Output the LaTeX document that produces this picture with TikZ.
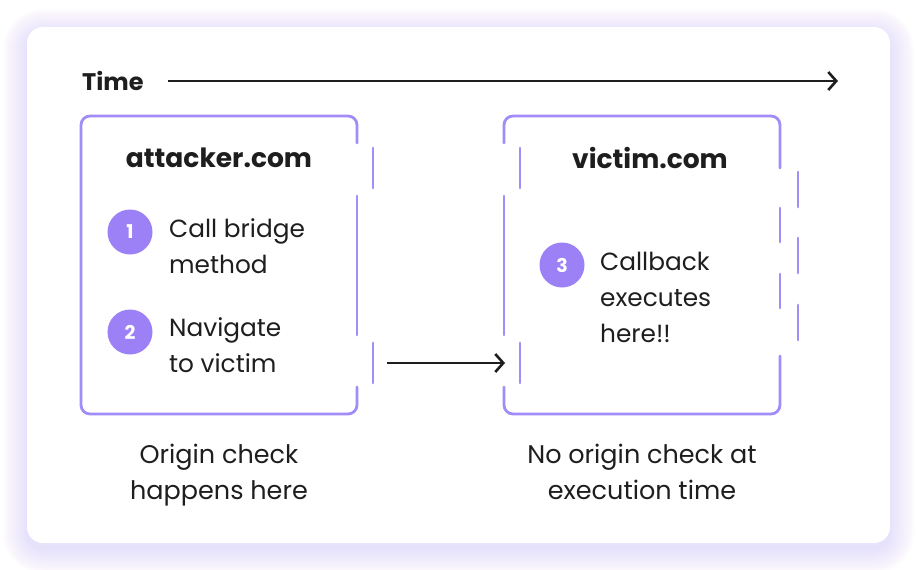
\documentclass[tikz,border=0pt]{standalone}
\usepackage{fontspec}
\setmainfont{Poppins}
\usetikzlibrary{arrows.meta}
\definecolor{ink}{HTML}{1E1E1E}
\definecolor{lav}{HTML}{A18CF8}
\definecolor{dot}{HTML}{9C80F6}
\definecolor{glow}{HTML}{CFC3FC}
\tikzset{
  edge/.style={draw=lav, line width=2.8pt, rounded corners=9pt, line cap=round},
  badge/.style={circle, fill=dot, minimum size=45pt, inner sep=0pt, text=white, font=\fontsize{19}{19}\selectfont\bfseries},
  body/.style={anchor=west, align=left, text=ink, font=\fontsize{24.8}{36}\selectfont, inner sep=0pt},
  caption/.style={align=center, text=ink, font=\fontsize{25.5}{36}\selectfont, inner sep=0pt},
  title/.style={text=ink, font=\fontsize{26.5}{26}\selectfont\bfseries, inner sep=0pt},
  arr/.style={draw=ink, line width=2.6pt, -{Straight Barb[length=8pt,width=18pt,line width=2.6pt]}},
}
\begin{document}
\begin{tikzpicture}[x=1pt,y=-1pt]
\useasboundingbox (0,0) rectangle (918,570);
\fill[white] (0,0) rectangle (918,570);
% glow
\foreach \i in {1,...,24}{
  \fill[glow, opacity=0.018, rounded corners={16pt+\i pt}]
    (27-\i, 27-\i+6) rectangle (890+\i, 543+\i+6);
}
\fill[white, rounded corners=16pt] (27,27) rectangle (890,543);

% time axis
\node[anchor=west, text=ink, font=\fontsize{24}{24}\selectfont\bfseries, inner sep=0pt] (time) at (82,81) {Time};
\coordinate (tstart) at (168,81);
\coordinate (tend) at (838,81);
\draw[arr] (tstart) -- (tend);

% left box edges
\draw[edge] (357,143) -- (357,116) -- (81,116) -- (81,414) -- (357,414) -- (357,387);
\draw[edge] (373,148) -- (373,188);
\draw[edge] (357,196) -- (357,335);
\draw[edge] (373,343) -- (373,383);

% right box edges
\draw[edge] (504,143) -- (504,116) -- (780,116) -- (780,168);
\draw[edge] (520,148) -- (520,188);
\draw[edge] (504,196) -- (504,335);
\draw[edge] (520,343) -- (520,383);
\draw[edge] (504,387) -- (504,414) -- (780,414) -- (780,356);
\draw[edge] (798,172) -- (798,207);
\draw[edge] (780,208) -- (780,242);
\draw[edge] (798,238) -- (798,273);
\draw[edge] (780,274) -- (780,308);
\draw[edge] (798,305) -- (798,340);

% titles
\node[title] (att) at (219,158) {attacker.com};
\node[title] (vic) at (650,158) {victim.com};

% steps
\node[badge] (b1) at (130,232) {1};
\node[body] (t1) at (169,246) {Call bridge\\method};
\node[badge] (b2) at (130,332) {2};
\node[body] (t2) at (169,345) {Navigate\\to victim};
\node[badge] (b3) at (562,265) {3};
\node[body] (t3) at (600,297) {Callback\\executes\\here!!};

% navigation arrow
\coordinate (na) at (387,363);
\coordinate (nb) at (505,363);
\draw[arr] (na) -- (nb);

% captions
\node[caption] (c1) at (219,475) {Origin check\\happens here};
\node[caption] (c2) at (642,475) {No origin check at\\execution time\vphantom{p}};
\end{tikzpicture}
\end{document}
